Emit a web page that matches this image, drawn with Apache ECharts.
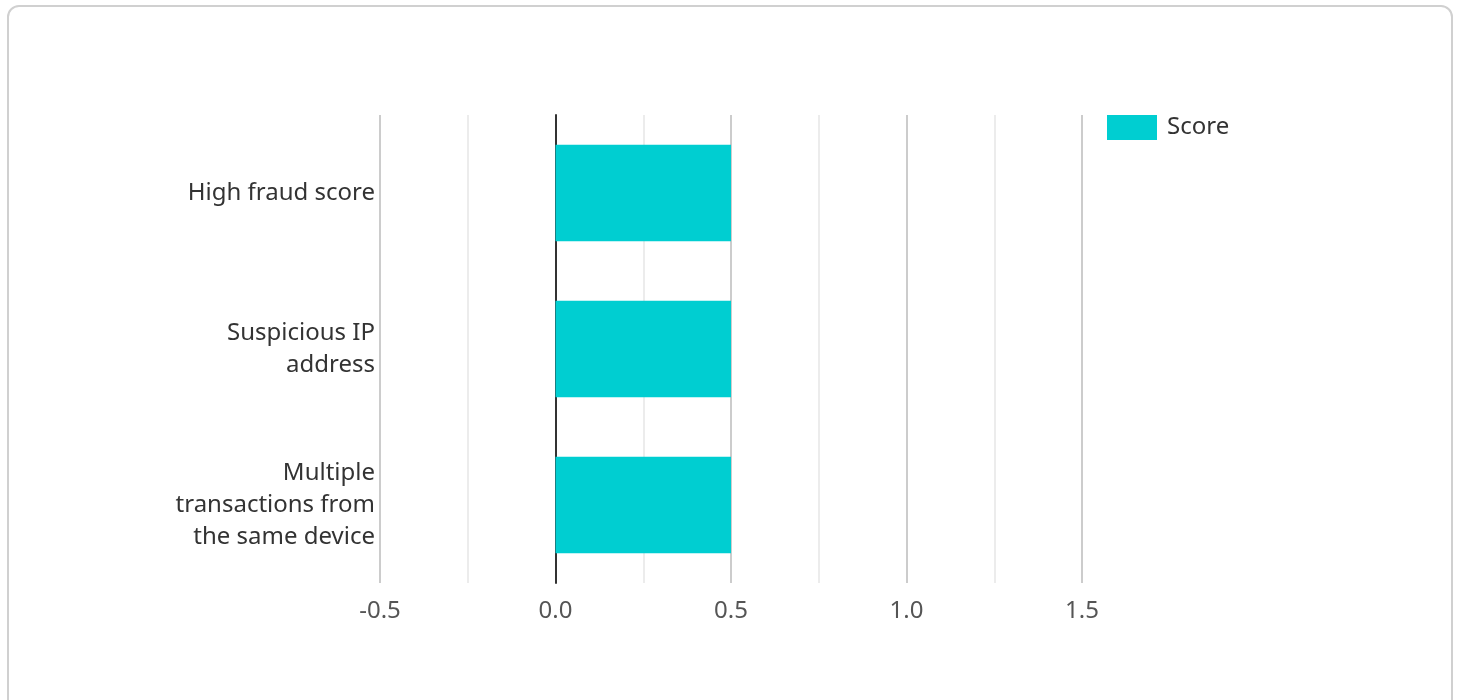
<!DOCTYPE html>
<html>
<head>
<meta charset="utf-8">
<script src="https://cdn.jsdelivr.net/npm/echarts@6/dist/echarts.min.js"></script>
<style>
  html, body { margin: 0; padding: 0; background: #fff; }
  #card { position: absolute; left: 7px; top: 5px; width: 1446px; height: 720px; border: 2px solid #d0d0d0; border-radius: 12px; box-sizing: border-box; }
  #chart { position: absolute; left: 0; top: 0; width: 1458px; height: 700px; }
</style>
</head>
<body>
<div id="card"></div>
<div id="chart"></div>
<script>
const categories = ['High fraud score', 'Suspicious IP address', 'Multiple transactions from the same device'];
const categoryLabels = ['High fraud score', 'Suspicious IP\naddress', 'Multiple\ntransactions from\nthe same device'];
const scoreValues = [0.5, 0.5, 0.5];
const seriesName = 'Score';

const chart = echarts.init(document.getElementById('chart'));
chart.setOption({
  animation: false,
  textStyle: { fontFamily: 'Noto Sans' },
  legend: {
    data: [seriesName],
    icon: 'rect',
    left: 1102,
    top: 110,
    itemWidth: 50,
    itemHeight: 25,
    itemGap: 10,
    textStyle: { fontSize: 24, color: '#333', fontFamily: 'Noto Sans', padding: [0, 0, 0, 5] }
  },
  grid: { left: 380, right: 376, top: 115, bottom: 117, containLabel: false },
  xAxis: {
    type: 'value',
    min: -0.5,
    max: 1.5,
    interval: 0.5,
    axisLine: { show: false },
    axisTick: { show: false },
    axisLabel: {
      fontSize: 24,
      color: '#555',
      margin: 16,
      fontFamily: 'Noto Sans',
      formatter: v => v.toFixed(1)
    },
    splitLine: { show: true, lineStyle: { color: '#cccccc', width: 2 } },
    minorTick: { show: false, splitNumber: 2 },
    minorSplitLine: { show: true, lineStyle: { color: '#e6e6e6', width: 1.5 } }
  },
  yAxis: {
    type: 'category',
    data: categories,
    inverse: true,
    axisLine: { show: true, onZero: true, lineStyle: { color: '#333', width: 2 } },
    axisTick: { show: false },
    axisLabel: {
      fontSize: 24,
      lineHeight: 32,
      color: '#333',
      margin: 5,
      fontFamily: 'Noto Sans',
      align: 'right',
      formatter: (v, i) => categoryLabels[i]
    },
    splitLine: { show: false }
  },
  series: [{
    name: seriesName,
    type: 'bar',
    data: scoreValues,
    barWidth: '62%',
    itemStyle: { color: '#00CED1' }
  }]
});
</script>
</body>
</html>
